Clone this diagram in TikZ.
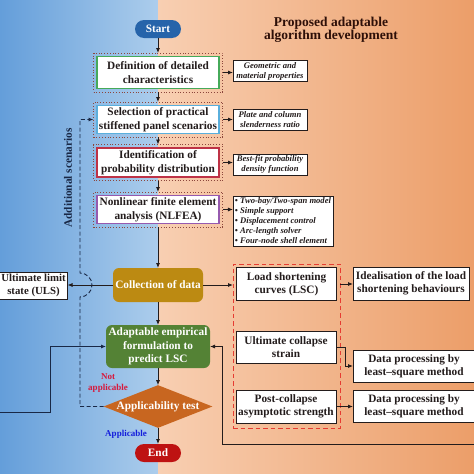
\documentclass[tikz,border=0pt]{standalone}
\usepackage{fontspec}
\setmainfont{Liberation Serif}
\usetikzlibrary{arrows.meta,shapes.geometric,fit,calc}
\definecolor{bgblueL}{RGB}{100,158,218}
\definecolor{bgblueR}{RGB}{172,205,236}
\definecolor{bgorL}{RGB}{248,207,178}
\definecolor{bgorR}{RGB}{236,158,105}
\definecolor{startblue}{RGB}{38,100,170}
\definecolor{endred}{RGB}{190,18,18}
\definecolor{gold}{RGB}{188,138,18}
\definecolor{greenA}{RGB}{84,130,53}
\definecolor{orangeD}{RGB}{200,102,32}
\definecolor{bgreen}{RGB}{70,170,90}
\definecolor{bcyan}{RGB}{90,175,220}
\definecolor{bcrimson}{RGB}{190,50,70}
\definecolor{bpurple}{RGB}{150,90,175}
\definecolor{dotbrown}{RGB}{140,70,60}
\definecolor{ink}{RGB}{35,28,28}
\definecolor{navy}{RGB}{25,40,70}
\definecolor{reddash}{RGB}{230,60,50}
\definecolor{titlec}{RGB}{45,15,8}
\definecolor{notred}{RGB}{215,25,60}
\definecolor{appblue}{RGB}{20,30,220}
\begin{document}
\begin{tikzpicture}[x=1pt,y=-1pt,
  every node/.style={inner sep=0pt, outer sep=0pt},
  mainbox/.style={draw, fill=white, line width=1.3pt, minimum width=122, align=center, text=ink, font=\fontsize{11.3}{14}\selectfont\bfseries},
  outerdot/.style={draw=dotbrown, dotted, line width=0.8pt, inner sep=3.5pt},
  sidebox/.style={draw=ink, fill=white, line width=0.9pt, minimum width=74, minimum height=21, align=center, text=ink, font=\fontsize{8.6}{10}\selectfont\bfseries\itshape},
  databox/.style={draw=ink, fill=white, line width=0.9pt, align=center, text=ink, font=\fontsize{11.3}{13}\selectfont\bfseries},
  pill/.style={rounded corners=9pt, minimum width=46, minimum height=18, text=white, font=\fontsize{11.3}{13}\selectfont\bfseries},
  colourbox/.style={rounded corners=6pt, text=white, align=center, font=\fontsize{11.3}{13.5}\selectfont\bfseries},
  arr/.style={draw=ink, line width=0.8pt, -{Latex[length=5pt,width=4pt]}},
  dasharr/.style={draw=navy, line width=0.9pt, dash pattern=on 4pt off 2.5pt, -{Latex[length=5pt,width=4pt]}}
]
\useasboundingbox (0,0) rectangle (474,474);
\clip (0,0) rectangle (474,474);
% backgrounds
\fill[left color=bgblueL, right color=bgblueR] (0,0) rectangle (158,474);
\fill[left color=bgorL, right color=bgorR] (158,0) rectangle (474,474);

% title
\node[font=\fontsize{13.5}{13}\selectfont\bfseries, text=titlec, align=center] (title) at (331,29.5) {Proposed adaptable\\algorithm development};

% main column
\node[pill, fill=startblue] (start) at (158,29) {Start};
\node[mainbox, draw=bgreen, minimum height=32] (b1) at (158,72.5) {Definition of detailed\\characteristics};
\node[outerdot, fit=(b1)] (b1o) {};
\node[mainbox, draw=bcyan, minimum height=28] (b2) at (158,119.5) {Selection of practical\\stiffened panel scenarios};
\node[outerdot, fit=(b2)] (b2o) {};
\node[mainbox, draw=bcrimson, minimum height=29] (b3) at (158,162.5) {Identification of\\probability distribution};
\node[outerdot, fit=(b3)] (b3o) {};
\node[mainbox, draw=bpurple, minimum height=28] (b4) at (158,209.5) {Nonlinear finite element\\analysis (NLFEA)};
\node[outerdot, fit=(b4)] (b4o) {};

\node[colourbox, fill=gold, minimum width=90, minimum height=34] (coll) at (158,285) {Collection of data};
\node[colourbox, fill=greenA, minimum width=104, minimum height=43] (adapt) at (158,346.5) {Adaptable empirical\\formulation to\\predict LSC};
\node[diamond, aspect=2.55, fill=orangeD, text=white, font=\fontsize{11.3}{13}\selectfont\bfseries] (test) at (158,406.5) {Applicability test};
\node[pill, fill=endred] (end) at (158,453) {End};

% side boxes
\node[sidebox] (r1) at (270,71) {Geometric and\\material properties};
\node[sidebox] (r2) at (270,119.5) {Plate and column\\slenderness ratio};
\node[sidebox] (r3) at (270,164.5) {Best-fit probability\\density function};
\node[sidebox, minimum width=100, minimum height=50, align=left, inner xsep=2pt] (r4) at (283,221) {\textbullet\ Two-bay/Two-span model\\\textbullet\ Simple support\\\textbullet\ Displacement control\\\textbullet\ Arc-length solver\\\textbullet\ Four-node shell element};

% ULS
\node[databox, minimum width=68, minimum height=27, font=\fontsize{10.8}{13}\selectfont\bfseries] (uls) at (33.5,285.5) {Ultimate limit\\state (ULS)};

% dashed group
\node[draw=reddash, line width=1pt, dash pattern=on 4.5pt off 3pt, minimum width=107, minimum height=164] (grp) at (286.5,346) {};
\node[databox, minimum width=100, minimum height=33] (lsc) at (286.5,284) {Load shortening\\curves (LSC)};
\node[databox, minimum width=100, minimum height=32] (ucs) at (286,347) {Ultimate collapse\\strain};
\node[databox, minimum width=100, minimum height=33] (pcs) at (286,406.5) {Post-collapse\\asymptotic strength};

\node[databox, minimum width=116, minimum height=33] (ideal) at (411,283.5) {Idealisation of the load\\shortening behaviours};
\node[databox, minimum width=122, minimum height=32] (dp1) at (414,366) {Data processing by\\least--square method};
\node[databox, minimum width=122, minimum height=32] (dp2) at (414,406) {Data processing by\\least--square method};

% labels
\node[rotate=90, text=navy, font=\fontsize{11.3}{13}\selectfont\bfseries] (addl) at (68,178) {Additional scenarios};
\node[text=notred, align=center, font=\fontsize{9}{11}\selectfont\bfseries] (na) at (108,383.5) {Not\\applicable};
\node[text=appblue, font=\fontsize{9}{11}\selectfont\bfseries] (ap) at (126,434) {Applicable};

% main arrows
\draw[arr] (start.south) -- (b1o.north);
\draw[arr] (b1o.south) -- (b2o.north);
\draw[arr] (b2o.south) -- (b3o.north);
\draw[arr] (b3o.south) -- (b4o.north);
\draw[arr] (b4o.south) -- (coll.north);
\draw[arr] (coll.south) -- (adapt.north);
\draw[arr] (adapt.south) -- (test.north);
\draw[arr] (test.south) -- (end.north);

\draw[arr] (b1o.east) -- (b1o.east -| r1.west);
\draw[arr] (b2o.east) -- (b2o.east -| r2.west);
\draw[arr] (b3o.east) -- (b3o.east -| r3.west);
\draw[arr] (b4o.east) -- (b4o.east -| r4.west);

\draw[arr] (coll.west) -- (coll.west -| uls.east);
\draw[arr] (coll.east) -- (coll.east -| grp.west);
\draw[arr] (grp.east |- lsc.east) -- (lsc.east -| ideal.west);
\coordinate (ucsk) at (345,347);
\draw[arr] (ucs.east) -- (ucsk) |- (dp1.west);
\draw[arr] (pcs.east) -- (pcs.east -| dp2.west);

% feedback lines
\coordinate (lf) at (0,412);
\coordinate (lfa) at (50,412);
\draw[arr, draw=navy] (lf) -- (lfa) |- (adapt.west);
\coordinate (rf) at (474,444);
\coordinate (rfa) at (222,444);
\draw[arr] (rf) -- (rfa) |- (adapt.east);

% dashed loop with hop
\coordinate (hopb) at (80,297);
\draw[dasharr] (test.west) -| (hopb) arc[start angle=90, end angle=-90, radius=12] |- (b2o.west);
\end{tikzpicture}
\end{document}
